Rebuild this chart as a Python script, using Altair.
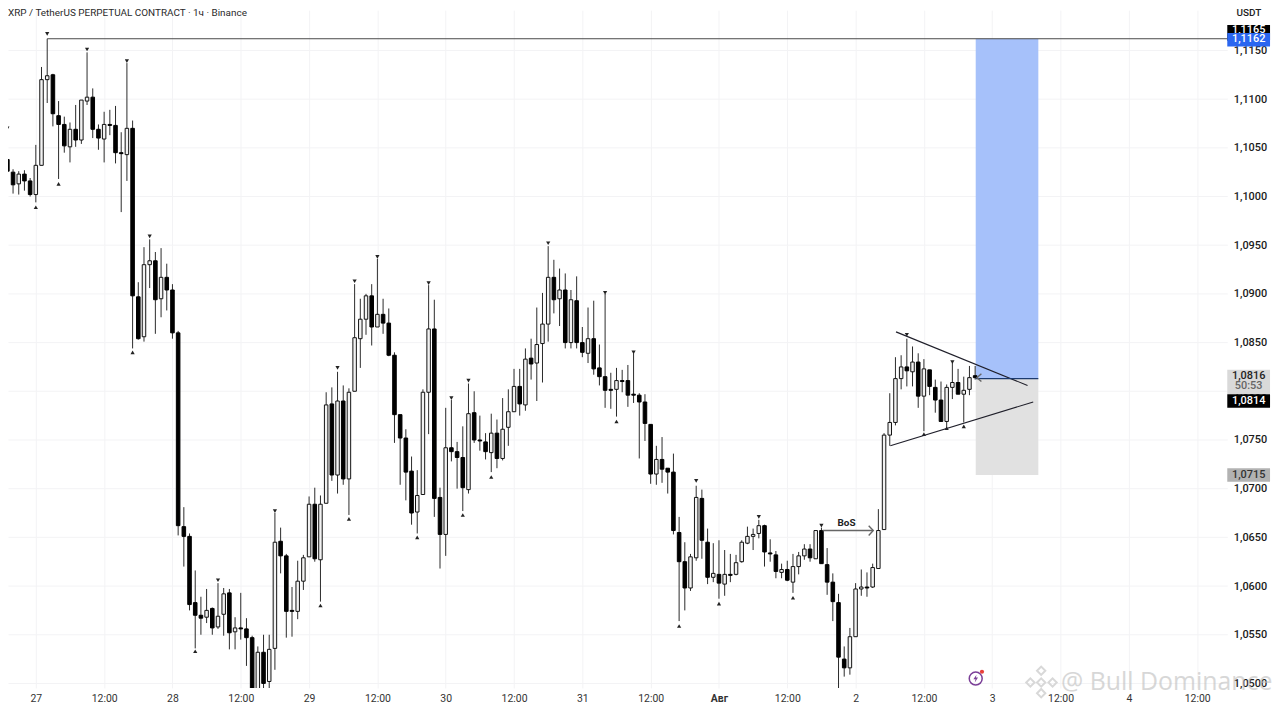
import json
import altair as alt
import pandas as pd

# Prices in ticks of 0.0001, one candle per hour; first candle is 6 hours before 27 Jul 00:00
FIRST_HOUR = -6
opens = [10994, 11038, 11025, 11013, 11023, 11016,
 11002, 11032, 11120, 11125, 11083, 11074, 11051, 11069, 11058, 11098, 11102, 11069,
 11059, 11074, 11073, 11045, 11043, 11070, 10897, 10856, 10930, 10934, 10895, 10917,
 10904, 10860, 10661, 10651, 10583, 10570, 10568, 10577, 10558, 10571, 10593, 10553,
 10557, 10556, 10547, 10490, 10532, 10502, 10536, 10646, 10631, 10575, 10574, 10605,
 10630, 10684, 10627, 10685, 10787, 10714, 10790, 10710, 10800, 10854, 10874, 10898,
 10866, 10879, 10870, 10837, 10776, 10752, 10718, 10676, 10694, 10799, 10864, 10691,
 10653, 10742, 10738, 10732, 10699, 10778, 10750, 10748, 10737, 10757, 10731, 10763,
 10779, 10805, 10786, 10834, 10829, 10849, 10869, 10917, 10895, 10904, 10850, 10893,
 10850, 10839, 10854, 10824, 10815, 10802, 10802, 10811, 10811, 10797, 10796, 10789,
 10766, 10715, 10730, 10721, 10717, 10655, 10625, 10598, 10629, 10690, 10645, 10609,
 10612, 10602, 10612, 10612, 10625, 10644, 10651, 10654, 10662, 10634, 10632, 10614,
 10617, 10604, 10620, 10631, 10638, 10628, 10657, 10622, 10604, 10583, 10525, 10516,
 10548, 10597, 10599, 10599, 10618, 10658, 10755, 10768, 10813, 10825, 10820, 10830,
 10795, 10822, 10804, 10791, 10769, 10804, 10809, 10797, 10802, 10816]
highs = [11047, 11067, 11028, 11026, 11027, 11019,
 11053, 11133, 11162, 11126, 11098, 11082, 11076, 11094, 11099, 11148, 11111, 11074,
 11087, 11089, 11093, 11066, 11137, 11078, 10912, 10948, 10956, 10943, 10947, 10931,
 10910, 10862, 10681, 10654, 10616, 10589, 10597, 10578, 10603, 10598, 10597, 10568,
 10593, 10567, 10549, 10538, 10550, 10550, 10675, 10660, 10633, 10599, 10626, 10632,
 10692, 10701, 10693, 10799, 10804, 10820, 10806, 10803, 10910, 10895, 10900, 10910,
 10936, 10895, 10885, 10840, 10776, 10761, 10733, 10719, 10802, 10909, 10894, 10701,
 10783, 10791, 10748, 10764, 10808, 10800, 10775, 10757, 10777, 10771, 10793, 10802,
 10823, 10823, 10844, 10854, 10886, 10901, 10949, 10935, 10926, 10921, 10904, 10918,
 10866, 10886, 10893, 10848, 10900, 10819, 10824, 10822, 10827, 10839, 10798, 10797,
 10766, 10744, 10753, 10721, 10736, 10671, 10645, 10633, 10703, 10699, 10659, 10644,
 10647, 10637, 10633, 10632, 10647, 10661, 10659, 10668, 10663, 10648, 10636, 10623,
 10626, 10633, 10635, 10643, 10643, 10657, 10660, 10639, 10613, 10592, 10538, 10557,
 10603, 10617, 10614, 10623, 10679, 10757, 10798, 10835, 10837, 10854, 10846, 10839,
 10833, 10822, 10812, 10810, 10807, 10829, 10823, 10815, 10826, 10826]
lows = [10987, 11013, 11003, 11002, 11006, 11000,
 10994, 11032, 11096, 11072, 11018, 11045, 11035, 11051, 11054, 11094, 11060, 11048,
 11035, 11063, 11034, 10984, 11016, 10844, 10853, 10851, 10906, 10859, 10876, 10883,
 10854, 10652, 10620, 10575, 10536, 10550, 10562, 10550, 10556, 10549, 10535, 10535,
 10545, 10518, 10480, 10480, 10490, 10490, 10514, 10613, 10547, 10548, 10566, 10596,
 10630, 10625, 10584, 10685, 10708, 10695, 10704, 10673, 10800, 10824, 10858, 10847,
 10866, 10859, 10836, 10747, 10704, 10688, 10663, 10654, 10694, 10756, 10671, 10618,
 10631, 10728, 10700, 10677, 10695, 10747, 10739, 10730, 10717, 10721, 10729, 10744,
 10779, 10775, 10780, 10812, 10790, 10809, 10851, 10880, 10867, 10844, 10844, 10844,
 10835, 10829, 10817, 10806, 10783, 10782, 10774, 10799, 10784, 10788, 10731, 10749,
 10705, 10704, 10706, 10695, 10653, 10564, 10575, 10595, 10626, 10628, 10602, 10604,
 10587, 10590, 10604, 10611, 10624, 10643, 10637, 10649, 10620, 10625, 10608, 10608,
 10605, 10593, 10612, 10627, 10625, 10628, 10623, 10591, 10564, 10495, 10507, 10509,
 10548, 10590, 10589, 10598, 10618, 10658, 10744, 10765, 10802, 10805, 10805, 10783,
 10759, 10796, 10778, 10769, 10762, 10792, 10797, 10768, 10796, 10812]
closes = [11040, 11026, 11012, 11023, 11016, 11002,
 11032, 11120, 11124, 11085, 11074, 11052, 11069, 11058, 11099, 11102, 11069, 11060,
 11074, 11073, 11045, 11044, 11070, 10898, 10854, 10930, 10934, 10894, 10917, 10904,
 10860, 10662, 10651, 10581, 10570, 10567, 10575, 10557, 10569, 10592, 10552, 10557,
 10556, 10547, 10490, 10532, 10500, 10535, 10645, 10631, 10574, 10574, 10605, 10629,
 10684, 10628, 10684, 10786, 10714, 10790, 10710, 10799, 10855, 10874, 10898, 10866,
 10879, 10870, 10837, 10776, 10752, 10717, 10675, 10693, 10799, 10864, 10690, 10653,
 10742, 10738, 10732, 10701, 10777, 10750, 10749, 10738, 10757, 10731, 10761, 10779,
 10805, 10787, 10833, 10828, 10848, 10869, 10917, 10894, 10904, 10850, 10894, 10850,
 10840, 10854, 10823, 10815, 10801, 10801, 10811, 10810, 10796, 10796, 10789, 10767,
 10715, 10730, 10720, 10717, 10657, 10625, 10598, 10630, 10691, 10647, 10609, 10613,
 10603, 10612, 10611, 10624, 10645, 10651, 10653, 10662, 10635, 10633, 10615, 10617,
 10606, 10620, 10631, 10638, 10629, 10657, 10623, 10604, 10584, 10527, 10516, 10548,
 10597, 10599, 10598, 10619, 10657, 10755, 10768, 10813, 10825, 10821, 10830, 10795,
 10823, 10805, 10791, 10769, 10804, 10809, 10797, 10801, 10814, 10814]

tick_hours = list(range(0, 216, 12))
tick_labels = ["27", "12:00", "28", "12:00", "29", "12:00", "30", "12:00", "31", "12:00",
               "Авг", "12:00", "2", "12:00", "3", "12:00", "4", "12:00"]
price_ticks = [1.05, 1.055, 1.06, 1.065, 1.07, 1.075, 1.08, 1.085, 1.09, 1.095,
               1.10, 1.105, 1.11, 1.115]

peak_h = [-5, 2, 9, 16, 20, 32, 42, 53, 56, 60, 69, 73, 76, 90, 100, 105, 116, 127, 138, 153, 161]
peak_p = [11070, 11167, 11151, 11139, 10959, 10606, 10677, 10824, 10913, 10938, 10911, 10793,
          10811, 10952, 10901, 10840, 10708, 10671, 10662, 10858, 10830]
trough_h = [0, 4, 17, 28, 50, 55, 67, 75, 80, 102, 113, 120, 133, 156, 160, 163]
trough_p = [10989, 11013, 10840, 10533, 10580, 10669, 10650, 10673, 10712, 10769, 10559, 10582,
            10588, 10756, 10762, 10764]

# Annotation lines: id, kind, hour, price tick
line_id = ["top", "top", "up", "up", "low", "low", "entry", "entry",
           "bos", "bos", "head", "head", "head", "cur", "cur", "cur"]
line_kind = ["level", "level", "trend", "trend", "trend", "trend", "entry", "entry",
             "bos", "bos", "bos", "bos", "bos", "bos", "bos", "bos"]
line_h = [2, 209.29, 151.1, 174.2, 150.1, 175.2, 165.1, 176.1,
          138.2, 147.1, 146.3, 147.1, 146.3, 166.1, 165.3, 166.1]
line_p = [11162, 11162, 10861, 10806, 10744, 10789, 10813, 10813,
          10657, 10657, 10662, 10657, 10652, 10818, 10814, 10810]

# Long-position tool: profit and risk zones
zone_h0 = [165.1, 165.1]
zone_h1 = [176.1, 176.1]
zone_p0 = [11162, 10813]
zone_p1 = [10813, 10714]
zone_col = ["#a6c1fa", "#e1e1e1"]

# Price-scale boxes
box_h0, box_h1 = 209.29, 216.8
box_p0 = [11176, 10822, 10797, 10721]
box_p1 = [11160, 10797, 10783, 10707]
box_col = ["#000000", "#d9d9d9", "#000000", "#b2b2b2"]

title_text = "XRP / TetherUS PERPETUAL CONTRACT · 1ч · Binance"
hidden_label = ["1,1165"]
FONT = "Roboto"

n = len(opens)
df = pd.DataFrame({
    "h": list(range(FIRST_HOUR, FIRST_HOUR + n)),
    "o": [v / 10000 for v in opens], "hi": [v / 10000 for v in highs],
    "lo": [v / 10000 for v in lows], "c": [v / 10000 for v in closes],
})
up = df[df.c >= df.o]
down = df[df.c < df.o]

xs = alt.Scale(domain=[-4.887, 209.29], nice=False, zero=False, padding=0)
ys = alt.Scale(domain=[1.04954, 1.11913], nice=False, zero=False, padding=0)
X = alt.X("h:Q", scale=xs, axis=None)
Y = alt.Y("y:Q", scale=ys, axis=None)

label_list = json.dumps(tick_labels, ensure_ascii=False)

axes = alt.Chart(pd.DataFrame({"h": [0], "y": [1.09]})).mark_point(opacity=0).encode(
    x=alt.X("h:Q", scale=xs, title=None, axis=alt.Axis(
        orient="bottom", values=tick_hours, grid=True, gridColor="#f3f3f5", domain=False, ticks=False,
        labelExpr=f"{label_list}[round(datum.value/12)]", labelFont=FONT, labelFontSize=10.5,
        labelColor="#333333", labelPadding=6, labelFlush=False, labelOverlap=False,
        labelFontWeight=alt.expr("datum.value==120 ? 'bold' : 'normal'"))),
    y=alt.Y("y:Q", scale=ys, title=None, axis=alt.Axis(
        orient="right", values=price_ticks, grid=True, gridColor="#f3f3f5", domain=False, ticks=False,
        labelExpr="replace(format(datum.value,'.4f'),'.',',')", labelFont=FONT, labelFontSize=11,
        labelFontWeight=500, labelColor="#1c1c1c", labelPadding=6, labelAlign="left",
        labelFlush=False, labelOverlap=False)),
)

zones = alt.Chart(pd.DataFrame({
    "a": zone_h0, "b": zone_h1, "y": [v / 10000 for v in zone_p0],
    "y2": [v / 10000 for v in zone_p1], "col": zone_col})).mark_rect().encode(
    x=alt.X("a:Q", scale=xs, axis=None), x2="b:Q", y=Y, y2="y2:Q", color=alt.Color("col:N", scale=None))

wicks = alt.Chart(df).mark_rule(color="#2a2a2a", strokeWidth=1, clip=True).encode(
    x=X, y=alt.Y("lo:Q", scale=ys, axis=None), y2="hi:Q")
bars_up = alt.Chart(up).mark_bar(size=3.5, fill="#f2f2f2", stroke="#111111", strokeWidth=1, clip=True).encode(
    x=X, y=alt.Y("o:Q", scale=ys, axis=None), y2="c:Q")
bars_down = alt.Chart(down).mark_bar(size=3.6, fill="#000000", stroke="#000000", strokeWidth=1, clip=True).encode(
    x=X, y=alt.Y("o:Q", scale=ys, axis=None), y2="c:Q")

peaks = alt.Chart(pd.DataFrame({"h": peak_h, "y": [v / 10000 for v in peak_p]})).mark_point(
    shape="triangle-down", filled=True, size=18, color="#222222", opacity=1, clip=True).encode(x=X, y=Y)
troughs = alt.Chart(pd.DataFrame({"h": trough_h, "y": [v / 10000 for v in trough_p]})).mark_point(
    shape="triangle-up", filled=True, size=18, color="#222222", opacity=1, clip=True).encode(x=X, y=Y)

lines_df = pd.DataFrame({"id": line_id, "kind": line_kind, "h": line_h,
                         "y": [v / 10000 for v in line_p], "i": list(range(len(line_id)))})
lines = alt.Chart(lines_df).mark_line(interpolate="linear").encode(
    x=X, y=Y, detail="id:N", order="i:Q",
    color=alt.Color("kind:N", legend=None, scale=alt.Scale(
        domain=["level", "trend", "entry", "bos"], range=["#4a4a4a", "#1f1f2a", "#1c3a6e", "#666666"])),
    strokeWidth=alt.StrokeWidth("kind:N", legend=None, scale=alt.Scale(
        domain=["level", "trend", "entry", "bos"], range=[1, 1.4, 1.6, 1])),
)

boxes_first = alt.Chart(pd.DataFrame({
    "a": [box_h0] * 4, "b": [box_h1] * 4, "y": [v / 10000 for v in box_p0],
    "y2": [v / 10000 for v in box_p1], "col": box_col})).mark_rect().encode(
    x=alt.X("a:Q", scale=xs, axis=None), x2="b:Q", y=Y, y2="y2:Q", color=alt.Color("col:N", scale=None))

hidden = alt.Chart(pd.DataFrame({"h": [213.05], "y": [1.1171], "t": hidden_label})).mark_text(
    font=FONT, fontSize=11, fontWeight=500, color="#ffffff").encode(x=X, y=Y, text="t:N")

blue_box = alt.Chart(pd.DataFrame({"a": [box_h0], "b": [box_h1], "y": [1.1168], "y2": [1.1154]})).mark_rect(
    color="#2a66f0").encode(x=alt.X("a:Q", scale=xs, axis=None), x2="b:Q", y=Y, y2="y2:Q")

# Texts on the price scale and on the chart
txt = pd.DataFrame({
    "h": [213.05, 213.05, 213.05, 213.05, 213.05],
    "y": [1.1162, 1.0816, 1.0805, 1.0790, 1.0714],
    "t": ["1,1162", "1,0816", "50:53", "1,0814", "1,0715"],
    "col": ["#ffffff", "#222222", "#666666", "#ffffff", "#333333"],
})
price_txt = alt.Chart(txt).mark_text(font=FONT, fontSize=11, fontWeight=500).encode(
    x=X, y=Y, text="t:N", color=alt.Color("col:N", scale=None))

usdt = alt.Chart(pd.DataFrame({"h": [213.1], "y": [1.1188], "t": ["USDT"]})).mark_text(
    font=FONT, fontSize=10, fontWeight=500, color="#222222").encode(x=X, y=Y, text="t:N")
title = alt.Chart(pd.DataFrame({"h": [-4.887], "y": [1.1188], "t": [title_text]})).mark_text(
    font=FONT, fontSize=10, align="left", color="#2a2a2a").encode(x=X, y=Y, text="t:N")
bos = alt.Chart(pd.DataFrame({"h": [142.4], "y": [1.0665], "t": ["BoS"]})).mark_text(
    font=FONT, fontSize=10, fontWeight="bold", color="#222222").encode(x=X, y=Y, text="t:N")

# Watermark and bolt badge
mark_h = [176.6, 174.7, 178.6, 176.6, 176.6]
mark_p = [1.0501, 1.0501, 1.0501, 1.0513, 1.0490]
logo = alt.Chart(pd.DataFrame({"h": mark_h, "y": mark_p})).mark_point(
    shape="diamond", size=70, color="#d8d8d8", strokeWidth=2, filled=False, opacity=1).encode(x=X, y=Y)
watermark = alt.Chart(pd.DataFrame({"h": [180.1], "y": [1.0501], "t": ["@ Bull Dominance"]})).mark_text(
    font="Open Sans", fontSize=25, align="left", color="#bdbdbd", opacity=0.6).encode(x=X, y=Y, text="t:N")
ring = alt.Chart(pd.DataFrame({"h": [165.1], "y": [1.0505]})).mark_point(
    shape="circle", size=170, color="#7b3f98", strokeWidth=1.5, opacity=1).encode(x=X, y=Y)
bolt = alt.Chart(pd.DataFrame({"h": [165.1], "y": [1.0505]})).mark_point(
    shape="M0.2,-1 L-0.6,0.15 L-0.05,0.15 L-0.25,1 L0.6,-0.25 L0.05,-0.25 Z",
    size=60, filled=True, color="#7b3f98", opacity=1).encode(x=X, y=Y)
dot = alt.Chart(pd.DataFrame({"h": [166.2], "y": [1.0512]})).mark_point(
    shape="circle", size=18, filled=True, color="#e8403a", opacity=1).encode(x=X, y=Y)

chart = alt.layer(
    axes, zones, wicks, bars_up, bars_down, peaks, troughs, lines,
    boxes_first, hidden, blue_box, price_txt, usdt, title, bos, logo, watermark, ring, bolt, dot,
).resolve_scale(color="independent").resolve_axis(x="independent", y="independent").properties(
    width=1227, height=682,
    padding={"left": 0, "top": 0, "right": 45, "bottom": 19},
    autosize=alt.AutoSizeParams(type="none"),
    background="#ffffff",
).configure_view(stroke=None)

chart.save("out.html", embed_options={"renderer": "svg", "actions": False})
